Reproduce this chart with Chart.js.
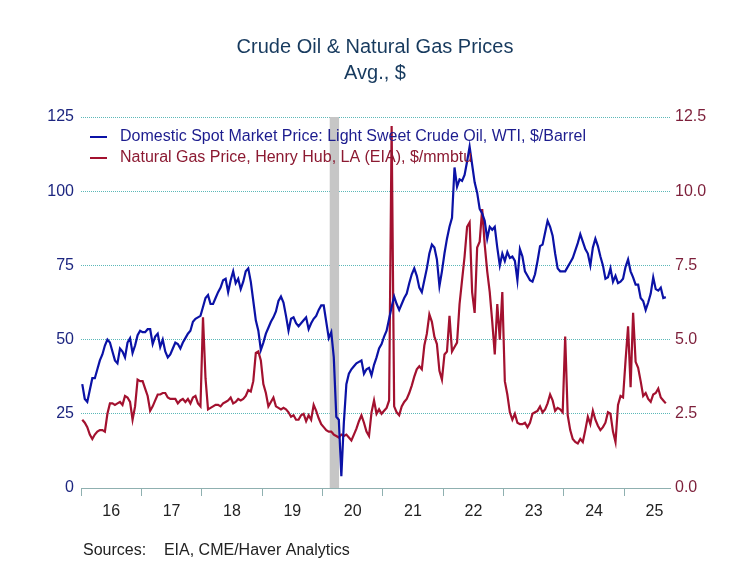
<!DOCTYPE html>
<html>
<head>
<meta charset="utf-8">
<title>Crude Oil & Natural Gas Prices</title>
<script src="https://cdn.jsdelivr.net/npm/chart.js@4.4.1/dist/chart.umd.min.js"></script>
<style>
  body { margin: 0; background: #fff; }
  canvas { display: block; }
</style>
</head>
<body>
<canvas id="chart" width="750" height="563"></canvas>
<script>
// semi-monthly averages, starting Jan 2016
var startYear = 2016;
var perYear = 24;

var wti = [
  35, 30, 29, 33, 37, 37, 40, 43, 45, 48, 50, 49, 46, 43, 42, 47, 46, 44, 49, 50.5, 45.5, 48, 51.5, 53,
  52.5, 52.5, 53.5, 53.5, 48.5, 51, 52, 47.5, 50, 46, 44, 45, 47, 49, 48.5, 47, 49, 50.5, 52, 53, 56, 57, 57.5, 58,
  61, 64, 65, 62, 62, 64, 66, 67.5, 70, 70.5, 66, 70, 73, 69, 70.5, 67, 69.5, 73, 74, 69.5, 63, 56.5, 53, 46.5,
  49, 52, 54, 56, 57.5, 59.5, 63, 64.5, 62.5, 58, 53, 57, 57.5, 55.5, 54.5, 55.5, 56.5, 57.5, 53.5, 55.5, 57, 58, 60, 61.5,
  61.5, 56, 50.5, 52.5, 44, 24, 23, 4, 22, 35, 38.5, 40, 41, 42, 42.5, 43, 38.5, 40, 40.5, 38, 41.5, 44, 47, 48.5,
  51, 53, 57, 61, 64.5, 62, 60, 62, 64, 65.5, 69, 72, 74, 71.5, 67.5, 66, 70, 74, 79, 82, 81, 77, 68, 73,
  79, 84, 88, 91, 108, 101.5, 104, 103.5, 105.5, 110, 115, 109, 103, 99.5, 94, 92.5, 90, 84, 88, 87, 88, 81, 75, 79,
  76.5, 79.5, 77.5, 78, 76.5, 70, 80.5, 78, 73, 71.5, 70, 69.5, 72, 76.5, 81.5, 82, 86, 90, 88, 85, 79, 74, 73, 73,
  73, 74.5, 76, 77.5, 80, 82.5, 85.5, 83, 80.5, 79, 75, 81, 84, 81.5, 78, 75, 70.5, 71, 74, 69.5, 71.5, 69, 69.5, 70.5,
  74.5, 77, 73, 71, 68.5, 68.5, 64, 63, 60, 62.5, 65.5, 71, 67, 66.5, 67.5, 64, 64.3
];

var henryHub = [
  2.3, 2.2, 2.05, 1.8, 1.65, 1.8, 1.9, 1.95, 1.95, 1.9, 2.5, 2.85, 2.85, 2.8, 2.85, 2.9, 2.8, 3.1, 3.05, 2.9, 2.3, 2.75, 3.65, 3.6,
  3.6, 3.35, 3.1, 2.6, 2.75, 2.95, 3.15, 3.15, 3.2, 3.2, 3.05, 3.0, 3.0, 3.0, 2.85, 2.95, 3.0, 2.9, 3.0, 2.85, 3.05, 3.1, 2.85, 2.75,
  5.75, 3.7, 2.65, 2.7, 2.75, 2.8, 2.8, 2.75, 2.85, 2.9, 2.95, 3.05, 2.85, 2.9, 3.0, 2.95, 3.0, 3.1, 3.3, 3.25, 3.6, 4.55, 4.6, 4.3,
  3.5, 3.2, 2.75, 2.9, 3.05, 2.75, 2.7, 2.65, 2.7, 2.65, 2.55, 2.4, 2.45, 2.3, 2.3, 2.45, 2.5, 2.25, 2.45, 2.3, 2.8, 2.6, 2.35, 2.15,
  2.05, 1.95, 1.9, 1.9, 1.8, 1.75, 1.7, 1.8, 1.75, 1.8, 1.7, 1.6, 1.8, 2.0, 2.25, 2.45, 2.2, 1.9, 1.75, 2.55, 2.95, 2.5, 2.65, 2.5,
  2.6, 2.7, 2.95, 12.2, 2.75, 2.55, 2.45, 2.75, 2.9, 3.0, 3.2, 3.45, 3.75, 4.0, 4.1, 4.0, 4.8, 5.2, 5.85, 5.6, 5.1, 4.85, 3.95, 3.65,
  4.5, 4.6, 5.8, 4.6, 4.75, 4.9, 6.2, 7.0, 7.8, 8.8, 8.95, 6.6, 5.9, 8.1, 8.3, 9.4, 8.2, 7.3, 6.6, 5.6, 4.5, 6.2, 5.0, 6.6,
  3.6, 3.15, 2.55, 2.3, 2.5, 2.2, 2.15, 2.15, 2.2, 2.05, 2.2, 2.5, 2.55, 2.6, 2.75, 2.55, 2.65, 2.85, 3.15, 2.95, 2.6, 2.7, 2.65, 2.55,
  5.1, 2.45, 1.95, 1.65, 1.55, 1.5, 1.65, 1.55, 1.95, 2.4, 2.15, 2.6, 2.3, 2.1, 1.95, 2.05, 2.2, 2.55, 2.5, 1.9, 1.55, 2.8, 3.1, 3.05,
  4.3, 5.45, 3.4, 5.9, 4.25, 4.05, 3.6, 3.1, 3.2, 3.0, 2.9, 3.15, 3.2, 3.35, 3.05, 2.95, 2.85
];

var yearLabels = ['16', '17', '18', '19', '20', '21', '22', '23', '24', '25'];
var oilTicks = [0, 25, 50, 75, 100, 125];
var gasTicks = [0, 2.5, 5.0, 7.5, 10.0, 12.5];
var recessions = [[2020.12, 2020.275]];

var seriesNames = [
  'Domestic Spot Market Price: Light Sweet Crude Oil, WTI, $/Barrel',
  'Natural Gas Price, Henry Hub, LA (EIA), $/mmbtu'
];

var FONT = '"Liberation Sans", Arial, sans-serif';
var oilColor = '#0b12a6';
var gasColor = '#a3112f';
var gridColor = '#5cb8b8';
var axisColor = '#8fb0b0';

function toPoints(values) {
  return values.map(function(v, i) {
    return { x: startYear + (i + 0.5) / perYear, y: v };
  });
}

var recessionPlugin = {
  id: 'recession',
  beforeDatasetsDraw: function(chart) {
    var ctx = chart.ctx;
    var x = chart.scales.x;
    var area = chart.chartArea;
    ctx.save();
    ctx.fillStyle = '#c6c6c6';
    recessions.forEach(function(r) {
      var x0 = x.getPixelForValue(r[0]);
      var x1 = x.getPixelForValue(r[1]);
      ctx.fillRect(x0, area.top, x1 - x0, area.bottom - area.top);
    });
    ctx.restore();
  }
};

var textPlugin = {
  id: 'texts',
  afterDraw: function(chart) {
    var ctx = chart.ctx;
    ctx.save();
    ctx.textBaseline = 'middle';

    ctx.fillStyle = '#173a5e';
    ctx.font = '20px ' + FONT;
    ctx.textAlign = 'center';
    ctx.fillText('Crude Oil & Natural Gas Prices', 375, 47);
    ctx.fillText('Avg., $', 375, 73);

    ctx.textAlign = 'left';
    ctx.font = '16px ' + FONT;
    var legendColors = [oilColor, gasColor];
    var textColors = ['#1c1c8e', '#8c1a32'];
    for (var i = 0; i < seriesNames.length; i++) {
      var y = 137 + i * 21;
      ctx.strokeStyle = legendColors[i];
      ctx.lineWidth = 2;
      ctx.beginPath();
      ctx.moveTo(90, y);
      ctx.lineTo(107, y);
      ctx.stroke();
      ctx.fillStyle = textColors[i];
      ctx.fillText(seriesNames[i], 120, y);
    }

    ctx.fillStyle = '#222222';
    ctx.fillText('Sources:    EIA, CME/Haver Analytics', 83, 551);
    ctx.restore();
  }
};

new Chart(document.getElementById('chart'), {
  type: 'line',
  data: {
    datasets: [{
      label: seriesNames[0],
      data: toPoints(wti),
      yAxisID: 'y',
      borderColor: oilColor,
      borderWidth: 2.2,
      pointRadius: 0,
      tension: 0
    }, {
      label: seriesNames[1],
      data: toPoints(henryHub),
      yAxisID: 'y2',
      borderColor: gasColor,
      borderWidth: 2.2,
      pointRadius: 0,
      tension: 0
    }]
  },
  options: {
    responsive: false,
    animation: false,
    layout: { padding: { top: 117, left: 0, right: 0, bottom: 0 } },
    plugins: {
      legend: { display: false },
      title: { display: false },
      tooltip: { enabled: false }
    },
    scales: {
      x: {
        type: 'linear',
        min: 2016,
        max: 2025.757,
        afterBuildTicks: function(scale) {
          var ticks = [];
          for (var i = 0; i < yearLabels.length; i++) {
            ticks.push({ value: startYear + i });
            ticks.push({ value: startYear + i + 0.5 });
          }
          scale.ticks = ticks;
        },
        afterFit: function(scale) { scale.height = 75; },
        ticks: {
          autoSkip: false,
          maxRotation: 0,
          padding: 6,
          color: '#222222',
          font: { family: FONT, size: 16 },
          callback: function(value) {
            if (Number.isInteger(value)) return '';
            return yearLabels[Math.floor(value) - startYear];
          }
        },
        grid: {
          drawOnChartArea: false,
          tickLength: 8,
          tickColor: function(ctx) {
            return ctx.tick && Number.isInteger(ctx.tick.value) ? axisColor : 'rgba(0,0,0,0)';
          }
        },
        border: { color: axisColor, width: 1 }
      },
      y: {
        position: 'left',
        min: 0,
        max: 125,
        afterBuildTicks: function(scale) {
          scale.ticks = oilTicks.map(function(v) { return { value: v }; });
        },
        afterFit: function(scale) { scale.width = 81; },
        ticks: {
          padding: 7,
          color: '#1d2680',
          font: { family: FONT, size: 16 }
        },
        grid: {
          drawTicks: false,
          color: function(ctx) {
            return ctx.tick && ctx.tick.value === 0 ? 'rgba(0,0,0,0)' : gridColor;
          }
        },
        border: { display: false, dash: [1, 1] }
      },
      y2: {
        position: 'right',
        min: 0,
        max: 12.5,
        afterBuildTicks: function(scale) {
          scale.ticks = gasTicks.map(function(v) { return { value: v }; });
        },
        afterFit: function(scale) { scale.width = 80; },
        ticks: {
          padding: 5,
          color: '#7d1f3a',
          font: { family: FONT, size: 16 },
          callback: function(value) { return value.toFixed(1); }
        },
        grid: { drawOnChartArea: false, drawTicks: false },
        border: { display: false }
      }
    }
  },
  plugins: [recessionPlugin, textPlugin]
});
</script>
</body>
</html>
